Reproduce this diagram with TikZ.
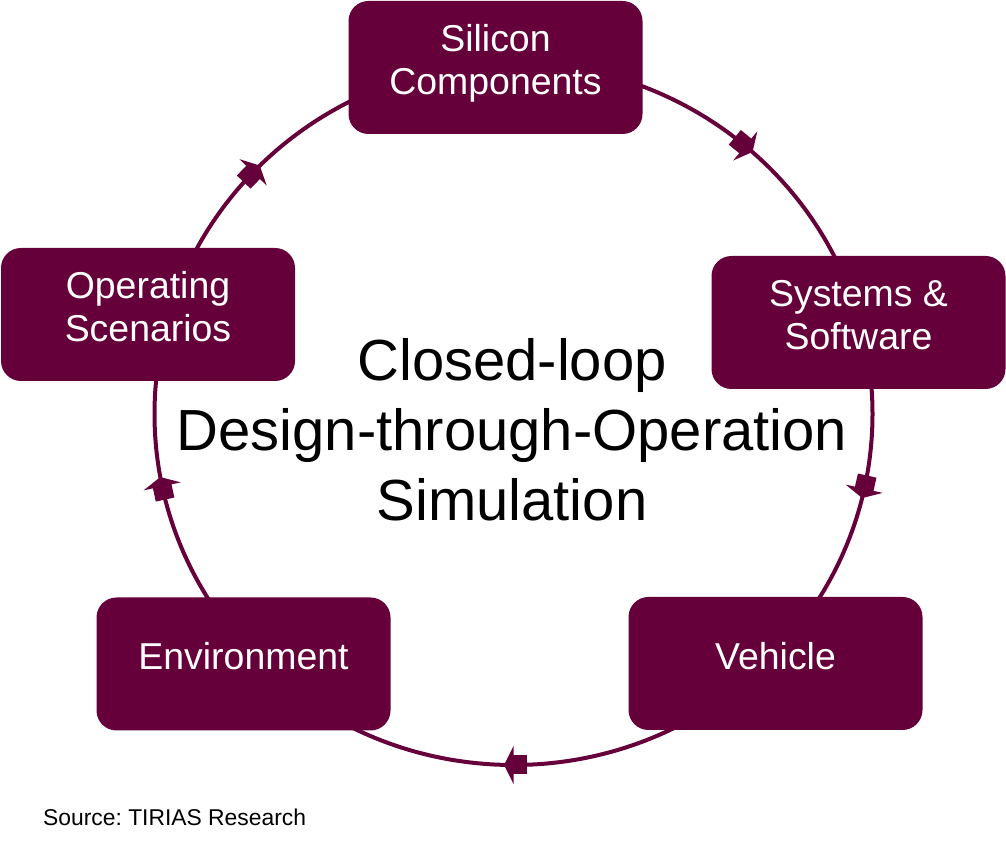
\documentclass[tikz,border=0pt]{standalone}
\usepackage{fontspec}
\setmainfont{Liberation Sans}
\usetikzlibrary{calc}
\definecolor{wine}{RGB}{102,0,58}
\newcommand{\boxstrut}{\rule[-0.41em]{0pt}{1.135em}}
\newcommand{\titlestrut}{\rule[-0.45em]{0pt}{1.2em}}
\tikzset{
  stage/.style={fill=wine, text=white, rounded corners=0.4cm, minimum width=5.88cm,
    minimum height=2.66cm, inner sep=0pt, align=center,
    font=\fontsize{21.3}{24.5}\selectfont},
  flowtip/.pic={
    \fill[wine] (0.19,0) -- (0,0.38) -- (0,-0.38) -- cycle;
    \fill[wine] (0.01,-0.19) rectangle (-0.27,0.19);
  }
}

\begin{document}
\begin{tikzpicture}
    \useasboundingbox (0,0) rectangle (20.12,17.06);
    \coordinate (c) at (10.27,8.78);
    \draw[wine, line width=0.08cm] (c) ellipse [x radius=7.18, y radius=7.02];
    \pic[rotate=-39.6] at ($(c)+(49.8:7.18 and 7.02)$) {flowtip};
    \pic[rotate=-102.6] at ($(c)+(-12.3:7.18 and 7.02)$) {flowtip};
    \pic[rotate=180] at ($(c)+(-90:7.18 and 7.02)$) {flowtip};
    \pic[rotate=102.2] at ($(c)+(-168.1:7.18 and 7.02)$) {flowtip};
    \pic[rotate=45.9] at ($(c)+(136.5:7.18 and 7.02)$) {flowtip};

    \node[stage] (sil) at (9.91,15.71) {\boxstrut Silicon\\\boxstrut Components};
    \node[stage] (sys) at (17.17,10.61) {\boxstrut Systems \&\\\boxstrut Software};
    \node[stage] (veh) at (15.51,3.79) {\boxstrut Vehicle};
    \node[stage] (env) at (4.87,3.78) {\boxstrut Environment};
    \node[stage] (ops) at (2.96,10.77) {\boxstrut Operating\\\boxstrut Scenarios};

    \node[align=center, font=\fontsize{33}{39.8}\selectfont] (title) at (10.24,8.23)
      {\titlestrut Closed-loop\\\titlestrut Design-through-Operation\\\titlestrut Simulation};
    \node[anchor=base west, font=\fontsize{13}{15.6}\selectfont] (src) at (0.74,0.56)
      {Source:\ TIRIAS Research};
\end{tikzpicture}
\end{document}
